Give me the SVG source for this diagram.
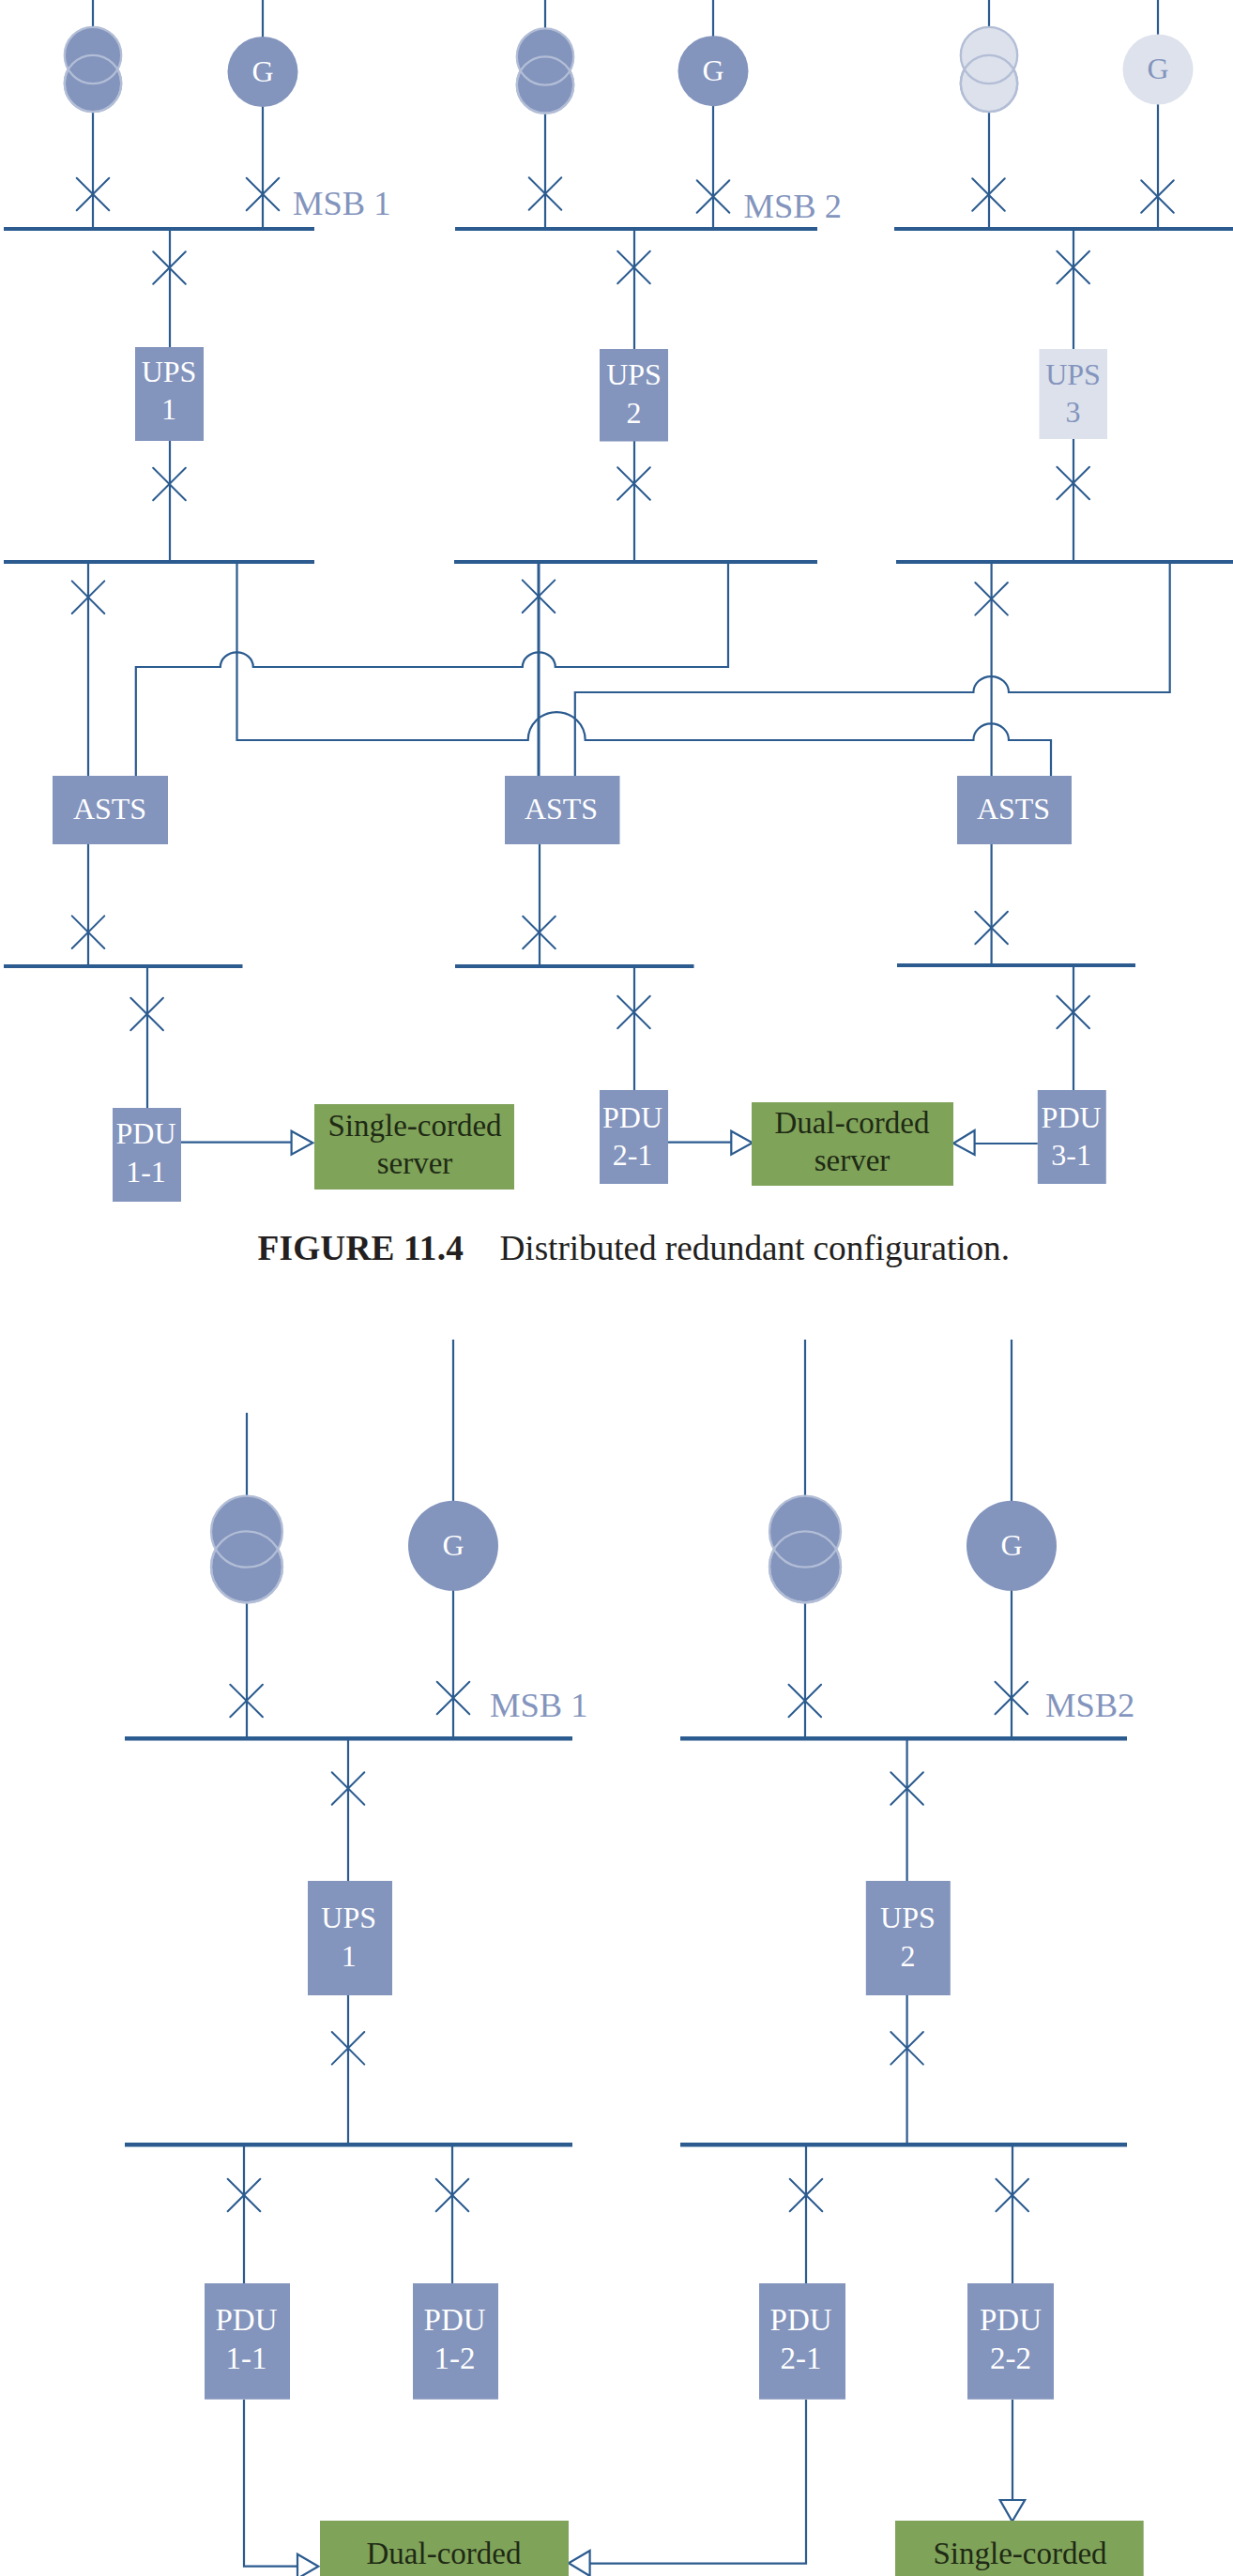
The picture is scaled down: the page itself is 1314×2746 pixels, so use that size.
<svg xmlns="http://www.w3.org/2000/svg" xmlns:xlink="http://www.w3.org/1999/xlink" width="1314" height="2746" viewBox="0 0 1314 2746">
<style>
text{font-family:"Liberation Serif","Times New Roman",serif;text-anchor:middle}
.w{fill:#fff;font-size:32px}
.w2{fill:#fff;font-size:33px}
.m{fill:#8394bd;font-size:36.5px;text-anchor:start}
.lt{fill:#8394bd;font-size:32px}
.d{fill:#1e2a14;font-size:33px}
.cap{fill:#231f20;font-size:37.3px;text-anchor:start}
.box{fill:#8394bd}
.box3{fill:#dce1eb}
.srv{fill:#80a35a}
.gen{fill:#8394bd}
.gen3{fill:#dde2ec}
.tf{fill:#8394bd;stroke:#b2bdd6;stroke-width:2.3}
.tf3{fill:#dce1eb;stroke:#b2bdd6;stroke-width:2.3}
.ring{fill:none;stroke:#b2bdd6;stroke-width:2.3}
.c{fill:none;stroke:#2b5b8f;stroke-width:2.2}
.bus{fill:#2b5b8f}
.ah{fill:#fff;stroke:#2b5b8f;stroke-width:2.2}
.brk{fill:none;stroke:#2b5b8f;stroke-width:2;stroke-linecap:round}
</style>
<defs><path id="x" class="brk" d="M-17.3-17.3L17.3 17.3M17.3-17.3L-17.3 17.3"/></defs>
<rect width="1314" height="2746" fill="#fff"/>
<g id="connectors">
<path class="c" d="M99 0V244M280 0V244M181 244V599M581 0V244M760 0V244M676 244V599M1054 0V244M1234 0V244M1144 244V599"/>
<path class="c" d="M94 599V1030M157 1030V1181M575 900V1030M676 1030V1162M1056.6 599V1029M1144 1029V1162"/>
<path class="c" style="stroke-width:3" d="M574 599V829"/>
<path class="c" d="M144.800 827V711H234.800A17.500 15.700 0 0 1 269.800 711H556.800A17.500 15.700 0 0 1 591.800 711H776V599"/>
<path class="c" d="M252.500 599V789H562.700A30.500 30 0 0 1 623.700 789H1037.400A18.800 17.700 0 0 1 1075 789H1120V827"/>
<path class="c" d="M612.800 829V738H1037.400A18.800 17 0 0 1 1075 738H1246.700V599"/>
<path class="c" d="M193 1217.700H310.600M712 1217.700H779.300M1105.800 1219H1038.600"/>
<polygon class="ah" points="310.600,1205.700 333.300,1218.300 310.600,1230.700"/>
<polygon class="ah" points="779.300,1205.700 801.800,1218.300 779.300,1230.700"/>
<polygon class="ah" points="1038.600,1205 1016,1218.700 1038.600,1231"/>
<path class="c" d="M263 1506V1853M483 1428V1853M371 1853V2286M858 1428V1853M1078 1428V1853M966.600 1853V2286"/>
<path class="c" d="M260 2286V2434M482 2286V2434M859 2286V2434M1079 2286V2434"/>
<path class="c" d="M260 2558V2735.700H317M859 2558V2732.700H628.600M1079 2558V2665"/>
<polygon class="ah" points="317,2722.700 339.300,2735.700 317,2748.700"/>
<polygon class="ah" points="628.600,2719 606,2732.300 628.600,2746"/>
<polygon class="ah" points="1065.700,2665 1092.200,2665 1078.700,2687.700"/>
</g>
<g id="busbars">
<rect class="bus" x="4" y="242" width="331" height="4"/>
<rect class="bus" x="485" y="242" width="386" height="4"/>
<rect class="bus" x="953" y="242" width="361" height="4"/>
<rect class="bus" x="4" y="597" width="331" height="4"/>
<rect class="bus" x="484" y="597" width="387" height="4"/>
<rect class="bus" x="955" y="597" width="359" height="4"/>
<rect class="bus" x="4" y="1028" width="254.500" height="4"/>
<rect class="bus" x="485" y="1028" width="254.500" height="4"/>
<rect class="bus" x="956" y="1027" width="254" height="4"/>
<rect class="bus" x="133" y="1851" width="477" height="4.500"/>
<rect class="bus" x="725" y="1851" width="476" height="4.500"/>
<rect class="bus" x="133" y="2284" width="477" height="4.500"/>
<rect class="bus" x="725" y="2284" width="476" height="4.500"/>
</g>
<g id="breakers">
<use id="cb1" xlink:href="#x" x="99" y="207"/>
<use id="cb2" xlink:href="#x" x="280" y="207"/>
<use id="cb3" xlink:href="#x" x="180.500" y="285.500"/>
<use id="cb4" xlink:href="#x" x="180.500" y="516"/>
<use id="cb5" xlink:href="#x" x="581" y="206.500"/>
<use id="cb6" xlink:href="#x" x="760" y="209.500"/>
<use id="cb7" xlink:href="#x" x="675.500" y="285"/>
<use id="cb8" xlink:href="#x" x="675.500" y="515.500"/>
<use id="cb9" xlink:href="#x" x="1053.500" y="207.500"/>
<use id="cb10" xlink:href="#x" x="1233.500" y="209.500"/>
<use id="cb11" xlink:href="#x" x="1143.700" y="285"/>
<use id="cb12" xlink:href="#x" x="1143.700" y="515"/>
<use id="cb13" xlink:href="#x" x="94" y="636.700"/>
<use id="cb14" xlink:href="#x" x="574" y="635.700"/>
<use id="cb15" xlink:href="#x" x="1056.600" y="638.300"/>
<use id="cb16" xlink:href="#x" x="94" y="993.700"/>
<use id="cb17" xlink:href="#x" x="574.500" y="994"/>
<use id="cb18" xlink:href="#x" x="1056.600" y="989"/>
<use id="cb19" xlink:href="#x" x="156.600" y="1081"/>
<use id="cb20" xlink:href="#x" x="675.500" y="1079"/>
<use id="cb21" xlink:href="#x" x="1143.700" y="1079"/>
<use id="cb22" xlink:href="#x" x="262.600" y="1813"/>
<use id="cb23" xlink:href="#x" x="483" y="1810"/>
<use id="cb24" xlink:href="#x" x="371" y="1906.500"/>
<use id="cb25" xlink:href="#x" x="371" y="2183.300"/>
<use id="cb26" xlink:href="#x" x="857.800" y="1813"/>
<use id="cb27" xlink:href="#x" x="1077.800" y="1810"/>
<use id="cb28" xlink:href="#x" x="966.600" y="1906.500"/>
<use id="cb29" xlink:href="#x" x="966.600" y="2183.300"/>
<use id="cb30" xlink:href="#x" x="260" y="2340"/>
<use id="cb31" xlink:href="#x" x="482" y="2340"/>
<use id="cb32" xlink:href="#x" x="859" y="2340"/>
<use id="cb33" xlink:href="#x" x="1078.700" y="2340"/>
</g>
<g id="tf1-1"><circle class="tf" cx="99" cy="89" r="30.200"/><circle class="tf" cx="99" cy="59" r="30.200"/><circle class="ring" cx="99" cy="89" r="30.200"/></g>
<g id="gen1-1"><circle class="gen" cx="280" cy="76.500" r="37.500"/><text class="w" x="280" y="87">G</text></g>
<g id="tf1-2"><circle class="tf" cx="581" cy="90.500" r="30.200"/><circle class="tf" cx="581" cy="60.500" r="30.200"/><circle class="ring" cx="581" cy="90.500" r="30.200"/></g>
<g id="gen1-2"><circle class="gen" cx="760" cy="75.700" r="37.500"/><text class="w" x="760" y="85.500">G</text></g>
<g id="tf1-3"><circle class="tf3" cx="1054" cy="89" r="30.200"/><circle class="tf3" cx="1054" cy="59" r="30.200"/><circle class="ring" cx="1054" cy="89" r="30.200"/></g>
<g id="gen1-3"><circle class="gen3" cx="1234" cy="74" r="37.500"/><text class="lt" x="1234" y="83.500">G</text></g>
<g id="msb1"><text class="m" x="312" y="229">MSB 1</text></g>
<g id="msb2"><text class="m" x="792.500" y="231.500">MSB 2</text></g>
<g id="ups1"><rect class="box" x="144" y="370" width="73" height="100"/><text class="w" x="180" y="406.500">UPS</text><text class="w" x="180" y="447">1</text></g>
<g id="ups2"><rect class="box" x="639" y="372" width="73" height="98.500"/><text class="w" x="675.500" y="410">UPS</text><text class="w" x="675.500" y="450.500">2</text></g>
<g id="ups3"><rect class="box3" x="1107.500" y="372" width="72.500" height="96"/><text class="lt" x="1143.500" y="409.500">UPS</text><text class="lt" x="1143.500" y="450">3</text></g>
<g id="asts1"><rect class="box" x="56" y="827" width="123" height="73"/><text class="w" x="117" y="872.700">ASTS</text></g>
<g id="asts2"><rect class="box" x="538" y="827" width="122.500" height="73"/><text class="w" x="598" y="872.700">ASTS</text></g>
<g id="asts3"><rect class="box" x="1020" y="827" width="122" height="73"/><text class="w" x="1080" y="872.700">ASTS</text></g>
<g id="pdu-a1"><rect class="box" x="120" y="1181" width="73" height="100"/><text class="w" x="155.500" y="1219.300">PDU</text><text class="w" x="155.500" y="1260">1-1</text></g>
<g id="pdu-a2"><rect class="box" x="639" y="1162" width="73" height="100"/><text class="w" x="674" y="1201.700">PDU</text><text class="w" x="674" y="1241.700">2-1</text></g>
<g id="pdu-a3"><rect class="box" x="1105.800" y="1162" width="73" height="100"/><text class="w" x="1141.600" y="1201.700">PDU</text><text class="w" x="1141.600" y="1241.700">3-1</text></g>
<g id="srv-a1"><rect class="srv" x="335" y="1177" width="213" height="91"/><text class="d" x="442" y="1210.700">Single-corded</text><text class="d" x="442" y="1251">server</text></g>
<g id="srv-a2"><rect class="srv" x="801" y="1175" width="215" height="89"/><text class="d" x="908" y="1208.300">Dual-corded</text><text class="d" x="908" y="1248.300">server</text></g>
<g id="caption"><text class="cap" x="274.500" y="1342.700" font-weight="bold" textLength="219.300">FIGURE 11.4</text><text class="cap" x="532.500" y="1342.700" textLength="543.500">Distributed redundant configuration.</text></g>
<g id="tf2-1"><circle class="tf" cx="263" cy="1670.300" r="38"/><circle class="tf" cx="263" cy="1632.700" r="38"/><circle class="ring" cx="263" cy="1670.300" r="38"/></g>
<g id="gen2-1"><circle class="gen" cx="483" cy="1647.800" r="48"/><text class="w" x="483" y="1657.700">G</text></g>
<g id="tf2-2"><circle class="tf" cx="858" cy="1670.300" r="38"/><circle class="tf" cx="858" cy="1632.700" r="38"/><circle class="ring" cx="858" cy="1670.300" r="38"/></g>
<g id="gen2-2"><circle class="gen" cx="1078" cy="1647.800" r="48"/><text class="w" x="1078" y="1657.700">G</text></g>
<g id="msb3"><text class="m" x="522" y="1830">MSB 1</text></g>
<g id="msb4"><text class="m" x="1114" y="1830">MSB2</text></g>
<g id="ups2-1"><rect class="box" x="328" y="2005" width="90" height="122"/><text class="w" x="371.700" y="2055.300">UPS</text><text class="w" x="371.700" y="2095.700">1</text></g>
<g id="ups2-2"><rect class="box" x="922.800" y="2005" width="90" height="122"/><text class="w" x="967.400" y="2055.300">UPS</text><text class="w" x="967.400" y="2095.700">2</text></g>
<g id="pdu-b1"><rect class="box" x="218" y="2434" width="91" height="123.700"/><text class="w2" x="262.500" y="2484.300">PDU</text><text class="w2" x="262.500" y="2525">1-1</text></g>
<g id="pdu-b2"><rect class="box" x="440" y="2434" width="91" height="123.700"/><text class="w2" x="484.600" y="2484.300">PDU</text><text class="w2" x="484.600" y="2525">1-2</text></g>
<g id="pdu-b3"><rect class="box" x="809" y="2434" width="92" height="123.700"/><text class="w2" x="853.600" y="2484.300">PDU</text><text class="w2" x="853.600" y="2525">2-1</text></g>
<g id="pdu-b4"><rect class="box" x="1031" y="2434" width="92" height="123.700"/><text class="w2" x="1077" y="2484.300">PDU</text><text class="w2" x="1077" y="2525">2-2</text></g>
<g id="srv-b1"><rect class="srv" x="341" y="2687" width="265" height="59"/><text class="d" x="473" y="2733.300">Dual-corded</text></g>
<g id="srv-b2"><rect class="srv" x="954" y="2687" width="264.700" height="59"/><text class="d" x="1087" y="2733.300">Single-corded</text></g>
</svg>
